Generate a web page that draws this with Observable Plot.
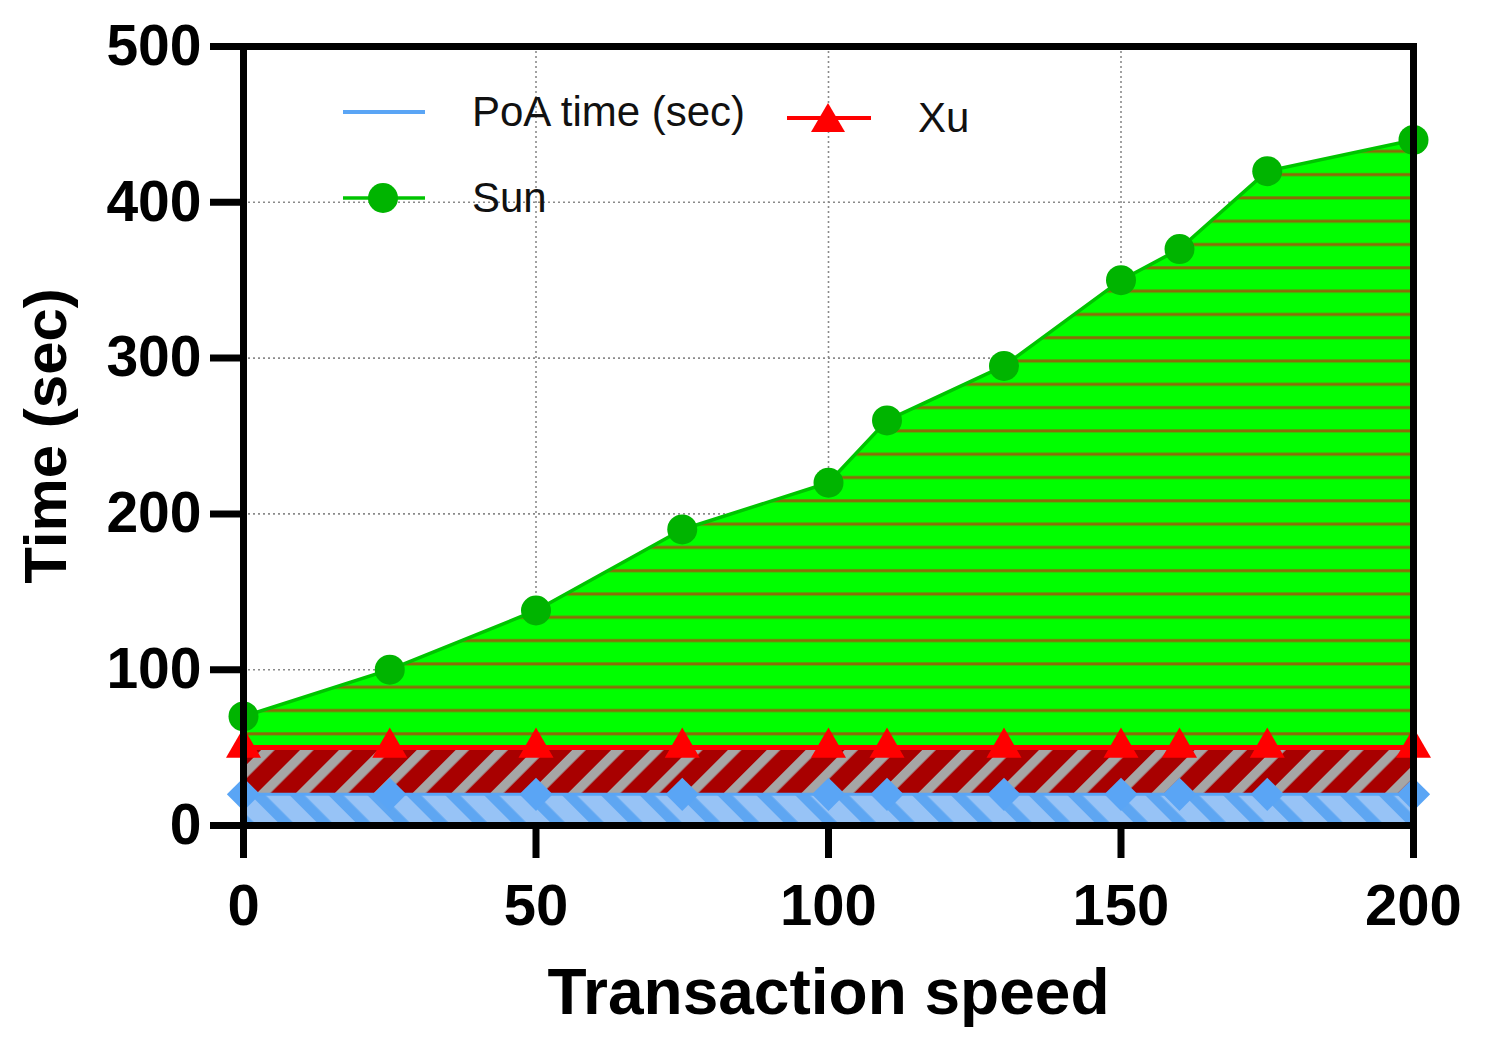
<!DOCTYPE html>
<html>
<head>
<meta charset="utf-8">
<script src="https://cdn.jsdelivr.net/npm/d3@7"></script>
<script src="https://cdn.jsdelivr.net/npm/@observablehq/plot@0.6"></script>
<style>
  html, body { margin: 0; padding: 0; background: #fff; }
  #wrap { position: relative; width: 1485px; height: 1045px; font-family: "Liberation Sans", Arial, sans-serif; }
  #wrap svg.plot { position: absolute; left: 0; top: 0; }
  .leg { position: absolute; display: flex; align-items: center; height: 50px; font-size: 42px; color: #111; white-space: nowrap; }
  .leg svg { display: block; }
</style>
</head>
<body>
<div id="wrap"></div>
<script>
// ---- data ----
const speeds   = [0, 25, 50, 75, 100, 110, 130, 150, 160, 175, 200];
const sunTime  = [70, 100, 138, 190, 220, 260, 295, 350, 370, 420, 440];
const xuTime   = [50, 50, 50, 50, 50, 50, 50, 50, 50, 50, 50];
const poaTime  = [20, 20, 20, 20, 20, 20, 20, 20, 20, 20, 20];
const xTicks   = [0, 50, 100, 150, 200];
const yTicks   = [0, 100, 200, 300, 400, 500];
const xGrid    = [50, 100, 150];
const yGrid    = [100, 200, 300, 400];
const seriesNames = ["PoA time (sec)", "Sun", "Xu"];

const rows = speeds.map((s, i) => ({speed: s, sun: sunTime[i], xu: xuTime[i], poa: poaTime[i]}));

const font = "'Liberation Sans', Arial, sans-serif";

const svg = Plot.plot({
  width: 1485,
  height: 1045,
  marginLeft: 243,
  marginRight: 72,
  marginTop: 46,
  marginBottom: 220,
  style: {fontFamily: font, background: "white", color: "black", overflow: "visible"},
  x: {domain: [0, 200]},
  y: {domain: [0, 500]},
  marks: [
    Plot.gridX(xGrid, {stroke: "#8a8a8a", strokeOpacity: 1, strokeWidth: 1.6, strokeDasharray: "2 3"}),
    Plot.gridY(yGrid, {stroke: "#8a8a8a", strokeOpacity: 1, strokeWidth: 1.6, strokeDasharray: "2 3"}),
    Plot.areaY(rows, {x: "speed", y1: "xu", y2: "sun", fill: "url(#patSun)"}),
    Plot.areaY(rows, {x: "speed", y1: "poa", y2: "xu", fill: "url(#patXu)"}),
    Plot.areaY(rows, {x: "speed", y1: 0, y2: "poa", fill: "url(#patPoa)"}),
    Plot.lineY(rows, {x: "speed", y: "sun", stroke: "#00c400", strokeWidth: 3.5}),
    Plot.lineY(rows, {x: "speed", y: "poa", stroke: "#5aa5f5", strokeWidth: 3}),
    Plot.lineY(rows, {x: "speed", y: "xu", stroke: "#ff0000", strokeWidth: 5}),
    Plot.dot(rows, {x: "speed", y: "poa", symbol: "diamond2", r: 15, fill: "#5aa5f5", stroke: "none"}),
    Plot.dot(rows, {x: "speed", y: "xu", symbol: "triangle", r: 13, fill: "#ff0000", stroke: "none"}),
    Plot.dot(rows, {x: "speed", y: "sun", symbol: "circle", r: 15, fill: "#00b400", stroke: "none"}),
    Plot.frame({stroke: "black", strokeWidth: 7}),
    Plot.axisY(yTicks, {tickSize: 33, tickPadding: 9, strokeWidth: 7, fontSize: 57, fontWeight: "bold", fill: "black", label: null, tickFormat: "d"}),
    Plot.axisX(xTicks, {tickSize: 33, tickPadding: 25, strokeWidth: 7, fontSize: 58, fontWeight: "bold", fill: "black", label: null, tickFormat: "d"}),
    Plot.text(["Transaction speed"], {frameAnchor: "bottom", dy: 168, fontSize: 64, fontWeight: "bold", fill: "black", lineAnchor: "middle", textAnchor: "middle"}),
    Plot.text(["Time (sec)"], {frameAnchor: "left", dx: -197, rotate: -90, fontSize: 60, fontWeight: "bold", fill: "black", lineAnchor: "middle", textAnchor: "middle"})
  ]
});
svg.classList.add("plot");

// ---- fill patterns ----
const defs = d3.select(svg).insert("defs", ":first-child");
const pSun = defs.append("pattern").attr("id", "patSun").attr("patternUnits", "userSpaceOnUse")
  .attr("width", 40).attr("height", 23.3);
pSun.append("rect").attr("width", 40).attr("height", 23.3).attr("fill", "#00ff00");
pSun.append("rect").attr("y", 10).attr("width", 40).attr("height", 3).attr("fill", "#8c6a08");

const pXu = defs.append("pattern").attr("id", "patXu").attr("patternUnits", "userSpaceOnUse")
  .attr("width", 27.5).attr("height", 27.5).attr("patternTransform", "rotate(45)");
pXu.append("rect").attr("width", 27.5).attr("height", 27.5).attr("fill", "#a80000");
pXu.append("rect").attr("x", 0).attr("width", 9.5).attr("height", 27.5).attr("fill", "#a6a6a6");

const pPoa = defs.append("pattern").attr("id", "patPoa").attr("patternUnits", "userSpaceOnUse")
  .attr("width", 27.5).attr("height", 27.5).attr("patternTransform", "rotate(-45)");
pPoa.append("rect").attr("width", 27.5).attr("height", 27.5).attr("fill", "#97c3f6");
pPoa.append("rect").attr("x", 0).attr("width", 10.5).attr("height", 27.5).attr("fill", "#5ea6f2");

const wrap = document.getElementById("wrap");
wrap.appendChild(svg);

// ---- legend (inside plot area) ----
function legendItem(left, top, name, swatch, gap) {
  const d = document.createElement("div");
  d.className = "leg";
  d.style.left = left + "px";
  d.style.top = top + "px";
  d.innerHTML = swatch + `<span style="margin-left:${gap}px">${name}</span>`;
  wrap.appendChild(d);
}
legendItem(343, 87, seriesNames[0],
  `<svg width="82" height="40"><line x1="0" x2="82" y1="20" y2="20" stroke="#5aa5f5" stroke-width="4"/></svg>`, 47);
legendItem(343, 173, seriesNames[1],
  `<svg width="82" height="40"><line x1="0" x2="82" y1="20" y2="20" stroke="#00c400" stroke-width="3.5"/><circle cx="40" cy="20" r="15" fill="#00b400"/></svg>`, 47);
legendItem(787, 93, seriesNames[2],
  `<svg width="84" height="40"><line x1="0" x2="84" y1="20" y2="20" stroke="#ff0000" stroke-width="4"/><path d="M41,5 L58,34 L24,34 Z" fill="#ff0000"/></svg>`, 47);
</script>
</body>
</html>
